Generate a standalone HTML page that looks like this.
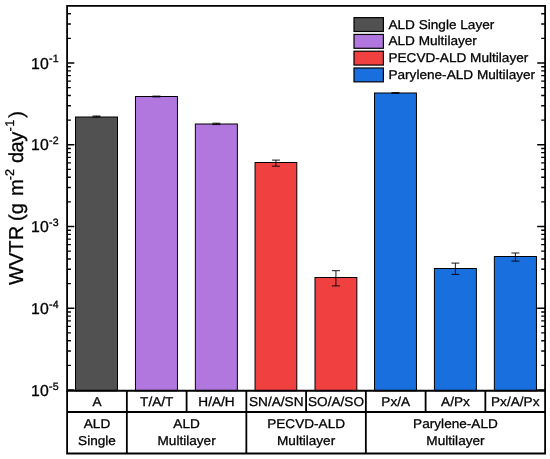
<!DOCTYPE html><html><head><meta charset="utf-8"><title>WVTR</title>
<style>html,body{margin:0;padding:0;background:#fff}svg{display:block}text{font-family:"Liberation Sans",Arial,sans-serif;fill:#000;stroke:#000;stroke-width:0.3px;text-rendering:geometricPrecision}</style></head><body>
<svg width="550" height="459" viewBox="0 0 550 459">
<rect width="550" height="459" fill="#fff"/>
<rect x="75.50" y="117.00" width="42" height="273.75" fill="#515151" stroke="#000" stroke-width="1"/>
<path d="M96.50 116.00V117.00M92.50 116.00h8M92.50 117.00h8" stroke="#000" stroke-width="0.9" fill="none"/>
<rect x="135.45" y="96.50" width="42" height="294.25" fill="#B177DE" stroke="#000" stroke-width="1"/>
<path d="M156.45 96.10V96.90M152.45 96.10h8M152.45 96.90h8" stroke="#000" stroke-width="0.9" fill="none"/>
<rect x="195.35" y="124.00" width="42" height="266.75" fill="#B177DE" stroke="#000" stroke-width="1"/>
<path d="M216.35 123.20V124.60M212.35 123.20h8M212.35 124.60h8" stroke="#000" stroke-width="0.9" fill="none"/>
<rect x="255.05" y="162.50" width="41.75" height="228.25" fill="#F14040" stroke="#000" stroke-width="1"/>
<path d="M275.93 160.10V166.20M271.93 160.10h8M271.93 166.20h8" stroke="#000" stroke-width="0.9" fill="none"/>
<rect x="315.00" y="277.50" width="41.85" height="113.25" fill="#F14040" stroke="#000" stroke-width="1"/>
<path d="M335.93 270.70V285.90M331.93 270.70h8M331.93 285.90h8" stroke="#000" stroke-width="0.9" fill="none"/>
<rect x="374.50" y="93.00" width="41.95" height="297.75" fill="#1A6FDF" stroke="#000" stroke-width="1"/>
<path d="M395.48 92.60V93.40M391.48 92.60h8M391.48 93.40h8" stroke="#000" stroke-width="0.9" fill="none"/>
<rect x="434.40" y="268.50" width="41.95" height="122.25" fill="#1A6FDF" stroke="#000" stroke-width="1"/>
<path d="M455.38 263.10V274.40M451.38 263.10h8M451.38 274.40h8" stroke="#000" stroke-width="0.9" fill="none"/>
<rect x="494.35" y="256.50" width="42.1" height="134.25" fill="#1A6FDF" stroke="#000" stroke-width="1"/>
<path d="M515.40 253.00V261.10M511.40 253.00h8M511.40 261.10h8" stroke="#000" stroke-width="0.9" fill="none"/>
<path d="M67.10 390.00H74.3M545.10 390.00H537.2M67.10 365.39H70.9M545.10 365.39H541.2M67.10 351.00H70.9M545.10 351.00H541.2M67.10 340.78H70.9M545.10 340.78H541.2M67.10 332.86H70.9M545.10 332.86H541.2M67.10 326.39H70.9M545.10 326.39H541.2M67.10 320.91H70.9M545.10 320.91H541.2M67.10 316.17H70.9M545.10 316.17H541.2M67.10 311.99H70.9M545.10 311.99H541.2M67.10 308.25H74.3M545.10 308.25H537.2M67.10 283.64H70.9M545.10 283.64H541.2M67.10 269.25H70.9M545.10 269.25H541.2M67.10 259.03H70.9M545.10 259.03H541.2M67.10 251.11H70.9M545.10 251.11H541.2M67.10 244.64H70.9M545.10 244.64H541.2M67.10 239.16H70.9M545.10 239.16H541.2M67.10 234.42H70.9M545.10 234.42H541.2M67.10 230.24H70.9M545.10 230.24H541.2M67.10 226.50H74.3M545.10 226.50H537.2M67.10 201.89H70.9M545.10 201.89H541.2M67.10 187.50H70.9M545.10 187.50H541.2M67.10 177.28H70.9M545.10 177.28H541.2M67.10 169.36H70.9M545.10 169.36H541.2M67.10 162.89H70.9M545.10 162.89H541.2M67.10 157.41H70.9M545.10 157.41H541.2M67.10 152.67H70.9M545.10 152.67H541.2M67.10 148.49H70.9M545.10 148.49H541.2M67.10 144.75H74.3M545.10 144.75H537.2M67.10 120.14H70.9M545.10 120.14H541.2M67.10 105.75H70.9M545.10 105.75H541.2M67.10 95.53H70.9M545.10 95.53H541.2M67.10 87.61H70.9M545.10 87.61H541.2M67.10 81.14H70.9M545.10 81.14H541.2M67.10 75.66H70.9M545.10 75.66H541.2M67.10 70.92H70.9M545.10 70.92H541.2M67.10 66.74H70.9M545.10 66.74H541.2M67.10 63.00H74.3M545.10 63.00H537.2M67.10 38.39H70.9M545.10 38.39H541.2M67.10 24.00H70.9M545.10 24.00H541.2M67.10 13.78H70.9M545.10 13.78H541.2" stroke="#000" stroke-width="1.4" fill="none"/>
<path d="M67.1 5.9H545.1V390.75H67.1Z" stroke="#000" stroke-width="1.8" fill="none" stroke-linejoin="miter"/>
<path d="M67.1 390.75V453.5H545.1V390.75M67.1 412.0H545.1M126.85 390.75V453.5M186.60 390.75V412.0M246.35 390.75V453.5M306.10 390.75V412.0M365.85 390.75V453.5M425.60 390.75V412.0M485.35 390.75V412.0" stroke="#000" stroke-width="1.8" fill="none"/>
<text transform="translate(96.97 405.80) scale(1.0 0.94)" font-size="13.62" text-anchor="middle">A</text>
<text transform="translate(156.72 405.80) scale(1.0 0.94)" font-size="13.62" text-anchor="middle">T/A/T</text>
<text transform="translate(216.47 405.80) scale(1.0 0.94)" font-size="13.62" text-anchor="middle">H/A/H</text>
<text transform="translate(276.23 405.80) scale(1.0 0.94)" font-size="13.62" text-anchor="middle">SN/A/SN</text>
<text transform="translate(335.98 405.80) scale(1.0 0.94)" font-size="13.62" text-anchor="middle">SO/A/SO</text>
<text transform="translate(395.73 405.80) scale(1.0 0.94)" font-size="13.62" text-anchor="middle">Px/A</text>
<text transform="translate(455.48 405.80) scale(1.0 0.94)" font-size="13.62" text-anchor="middle">A/Px</text>
<text transform="translate(515.23 405.80) scale(1.0 0.94)" font-size="13.62" text-anchor="middle">Px/A/Px</text>
<text transform="translate(96.97 428.45) scale(1.0 0.94)" font-size="13.62" text-anchor="middle">ALD</text>
<text transform="translate(96.97 445.40) scale(1.0 0.94)" font-size="13.62" text-anchor="middle">Single</text>
<text transform="translate(186.60 428.45) scale(1.0 0.94)" font-size="13.62" text-anchor="middle">ALD</text>
<text transform="translate(186.60 445.40) scale(1.0 0.94)" font-size="13.62" text-anchor="middle">Multilayer</text>
<text transform="translate(306.10 428.45) scale(1.0 0.94)" font-size="13.62" text-anchor="middle">PECVD-ALD</text>
<text transform="translate(306.10 445.40) scale(1.0 0.94)" font-size="13.62" text-anchor="middle">Multilayer</text>
<text transform="translate(455.48 428.45) scale(1.0 0.94)" font-size="13.62" text-anchor="middle">Parylene-ALD</text>
<text transform="translate(455.48 445.40) scale(1.0 0.94)" font-size="13.62" text-anchor="middle">Multilayer</text>
<text transform="translate(48.70 396.18)" font-size="15.8" text-anchor="end">10</text>
<text transform="translate(48.90 389.50)" font-size="10.6">-<tspan dx="0.45">5</tspan></text>
<text transform="translate(48.70 314.26)" font-size="15.8" text-anchor="end">10</text>
<text transform="translate(48.90 307.60)" font-size="10.6">-<tspan dx="0.45">4</tspan></text>
<text transform="translate(48.70 232.34)" font-size="15.8" text-anchor="end">10</text>
<text transform="translate(48.90 225.70)" font-size="10.6">-<tspan dx="0.45">3</tspan></text>
<text transform="translate(48.70 150.42)" font-size="15.8" text-anchor="end">10</text>
<text transform="translate(48.90 143.80)" font-size="10.6">-<tspan dx="0.45">2</tspan></text>
<text transform="translate(48.70 68.50)" font-size="15.8" text-anchor="end">10</text>
<text transform="translate(48.90 61.90)" font-size="10.6">-<tspan dx="0.45">1</tspan></text>
<text transform="translate(22.5 285.0) rotate(-90)" font-size="20.1">WVTR <tspan dx="-0.7">(g </tspan><tspan dx="1.6">m</tspan><tspan font-size="12.6" dy="-9" dx="-1.1">-2</tspan><tspan dy="9" dx="0.4"> d</tspan><tspan dx="-0.6">a</tspan><tspan dx="-0.5">y</tspan><tspan font-size="12.6" dy="-9" dx="0.2">-</tspan><tspan font-size="12.6" dx="0.6">1</tspan><tspan dy="9" dx="2.0">)</tspan></text>
<rect x="354.0" y="17.65" width="29.4" height="13.85" fill="#515151" stroke="#000" stroke-width="1.2"/>
<text transform="translate(388.40 28.65) scale(1.0 0.94)" font-size="13.62">ALD Single Layer</text>
<rect x="354.0" y="34.43" width="29.4" height="13.85" fill="#B177DE" stroke="#000" stroke-width="1.2"/>
<text transform="translate(388.40 45.45) scale(1.0 0.94)" font-size="13.62">ALD Multilayer</text>
<rect x="354.0" y="51.21" width="29.4" height="13.85" fill="#F14040" stroke="#000" stroke-width="1.2"/>
<text transform="translate(388.40 62.25) scale(1.0 0.94)" font-size="13.62">PECVD-ALD Multilayer</text>
<rect x="354.0" y="67.99" width="29.4" height="13.85" fill="#1A6FDF" stroke="#000" stroke-width="1.2"/>
<text transform="translate(388.40 79.05) scale(1.0 0.94)" font-size="13.62">Parylene-ALD Multilayer</text>
</svg></body></html>
